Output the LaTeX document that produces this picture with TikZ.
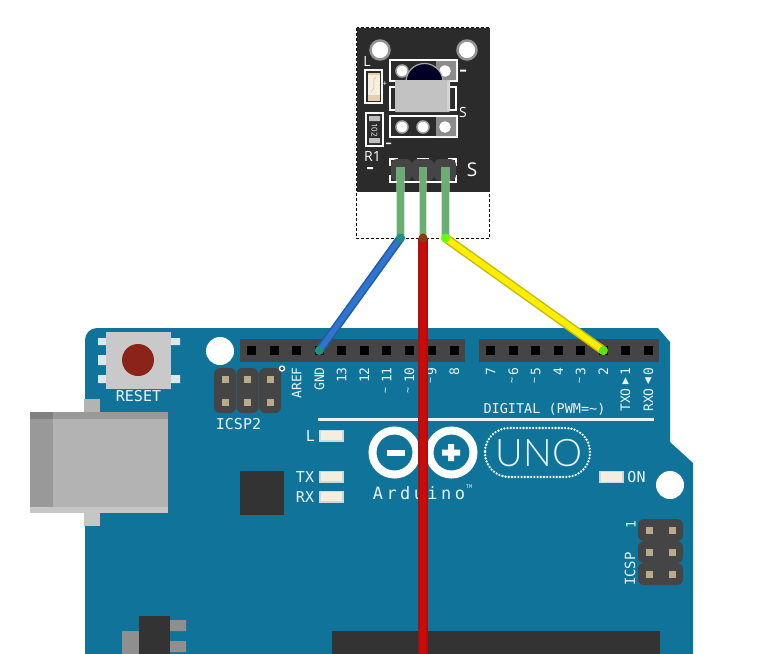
\documentclass[tikz,border=0pt]{standalone}
\usepackage{fontspec}
\setmainfont{DejaVu Sans Mono}
\newfontfamily\logofont[LetterSpace=20]{DejaVu Sans Mono}
\newfontfamily\unofont{Lato Light}
\newfontfamily\symfont{DejaVu Sans}
\newfontfamily\pcbfont{Open Sans}
\definecolor{board}{HTML}{10749A}
\definecolor{hdr}{HTML}{454545}
\definecolor{pinb}{HTML}{B8AC8C}
\definecolor{pcb}{HTML}{2B2B2B}
\definecolor{led}{HTML}{F6EEDC}
\definecolor{legg}{HTML}{6BAE70}
\definecolor{silk}{HTML}{EAF4F7}
\definecolor{tabc}{HTML}{DDE6EA}
\definecolor{resetc}{HTML}{C9C9C9}
\definecolor{resetb}{HTML}{8C2318}
\definecolor{usbm}{HTML}{B3B3B3}
\definecolor{usbd}{HTML}{999999}
\definecolor{chipc}{HTML}{333333}
\definecolor{bluew}{HTML}{2F74CE}
\definecolor{bluee}{HTML}{1E5CA6}
\definecolor{yelw}{HTML}{FFEE00}
\definecolor{yele}{HTML}{C4BC10}
\definecolor{bodyc}{HTML}{C2C2C2}
\definecolor{redw}{HTML}{CC0A0A}
\definecolor{rede}{HTML}{A51212}
\definecolor{tealj}{HTML}{1F8F86}
\definecolor{brownj}{HTML}{8A3A10}
\tikzset{
  silktxt/.style={text=silk,inner sep=0pt,font=\fontsize{13}{13}\selectfont},
  bigsilk/.style={text=silk,inner sep=0pt,font=\fontsize{15}{15}\selectfont},
  pintxt/.style={silktxt,rotate=90,anchor=east},
  tildetxt/.style={text=silk,inner sep=0pt,rotate=90,font=\fontsize{10}{10}\selectfont},
  pcbtxt/.style={text=white,inner sep=0pt,font=\pcbfont\fontsize{14}{14}\selectfont},
  pinhole/.style={fill=black,minimum size=9pt,inner sep=0pt},
  goldpin/.style={fill=pinb,minimum size=7pt,inner sep=0pt},
  leg/.style={line width=6.5pt,draw=legg},
  legglow/.style={line width=8.5pt,draw=legg!50,opacity=.6},
  frame/.style={draw=white,line width=2pt,fill=pcb},
  ledbox/.style={fill=led,draw=white!75!board,line width=1.2pt},
  pad/.style={circle,fill=white,draw=gray!70,line width=1.5pt,inner sep=0pt,minimum size=12pt},
  hole/.style={fill=white,draw=gray!85,line width=2.5pt}
}
\begin{document}
\begin{tikzpicture}[x=1pt,y=-1pt]
\useasboundingbox (0,0) rectangle (772,654);
\fill[white] (0,0) rectangle (772,654);
% board
\fill[board] (85,654) -- (85,340) arc[start angle=180,end angle=270,radius=12] -- (658,328) -- (670,342) -- (670,442) -- (693,463) -- (693,654) -- cycle;
\fill[white] (220,351) circle (14);
\fill[white] (670,485) circle (14);
% reset
\fill[tabc] (98,338) rectangle (180,345) (98,355) rectangle (106,365) (98,375) rectangle (180,383);
\fill[resetc] (106,332) rectangle (171,389);
\fill[resetb] (138,360) circle (16);
\node[bigsilk] (resetlbl) at (138.5,396) {RESET};
% usb
\fill[usbm] (84,399) rectangle (100,412);
\fill[usbm!75!white] (84,513) rectangle (100,526);
\fill[usbm] (30,412) rectangle (168,513);
\fill[usbd] (30,412) rectangle (53,513);
\fill[usbd] (53,412) rectangle (168,419);
\fill[gray] (30,412) rectangle (53,419);
\fill[usbm!75!white] (30,507) rectangle (168,513);
% icsp2
\foreach \x in {225,247.5,270} \fill[hdr] (\x-11,368) [rounded corners=6pt] rectangle (\x+11,413);
\foreach \x in {225,247.5,270} \foreach \y in {379,402} \node[goldpin] at (\x,\y) {};
\draw[white,line width=1.3pt,fill=hdr] (282,368.5) circle (2.5);
\node[bigsilk] (icspb) at (238.5,424) {ICSP2};
% chip
\fill[chipc] (240,471) rectangle (284,515);
% regulator and big chip
\fill[usbd!110] (122,631) rectangle (139,654);
\fill[usbd!110] (170,620) rectangle (186,631) (170,641) rectangle (186,652);
\fill[chipc] (139,616) rectangle (170,654);
\fill[chipc] (332,631) rectangle (660,654);
% headers
\fill[hdr] (240,339) rectangle (465,362);
\fill[hdr] (479,339) rectangle (659,362);
\foreach \x/\n in {251.7/a1,274.2/a2,296.7/a3,319.3/gnd,341.7/a5,364.3/a6,386.7/a7,409.3/a8,431.7/a9,454.3/a10,490.7/b1,513.3/b2,535.7/b3,558.3/b4,580.7/b5,603.3/dtwo,625.5/b7,648.3/b8}
  \node[pinhole] (\n) at (\x,350.5) {};
% pin labels
\foreach \x/\t in {296.7/AREF,319.3/GND,341.7/13,364.3/12,386.7/11,409.3/10,431.7/9,454.3/8,490.7/7,513.3/6,535.7/5,558.3/4,580.7/3,603.3/2}
  \node[pintxt] at (\x,367) {\t};
\foreach \x in {386.7,409.3} \node[tildetxt] at (\x,390) {\symbol{126}};
\foreach \x in {431.7,513.3,535.7,580.7} \node[tildetxt] at (\x,380) {\symbol{126}};
\node[pintxt] at (625.5,367) {1};
\node[pintxt] at (648.3,367) {0};
\node[silktxt,font=\symfont\fontsize{9}{9}\selectfont] at (625.5,381.5) {▲};
\node[silktxt,font=\symfont\fontsize{9}{9}\selectfont] at (648.3,381.5) {▼};
\node[pintxt] at (625.5,388) {TXO};
\node[pintxt] at (648.3,388) {RXO};
\node[silktxt,font=\fontsize{13.5}{13.5}\selectfont] (digi) at (544.5,409) {DIGITAL (PWM=\symbol{126})};
\fill[silk] (318,418) rectangle (654,420.5);
% LEDs
\node[bigsilk] (ltxt) at (310.5,436) {L};
\node[bigsilk] (txtxt) at (305,477) {TX};
\node[bigsilk] (rxtxt) at (305,497) {RX};
\draw[ledbox] (320,430.5) rectangle (343,441);
\draw[ledbox] (320,471.5) rectangle (343,482);
\draw[ledbox] (320,491.5) rectangle (343,502);
\draw[ledbox] (600,471.5) rectangle (623,482.5);
\node[bigsilk] (ontxt) at (636.5,477) {ON};
% logo
\draw[white,line width=8pt] (394.5,452.5) circle (22);
\draw[white,line width=8pt] (451.5,452.5) circle (22);
\fill[white] (387,449.5) rectangle (405,455.5);
\fill[white] (442,449.5) rectangle (460,455.5) (448,444) rectangle (454,461);
\node[text=silk,inner sep=0pt,font=\logofont\fontsize{17}{17}\selectfont] (ardu) at (419,493) {Arduino};
\node[text=silk,inner sep=0pt,font=\fontsize{5}{5}\selectfont] (tm) at (469,487) {TM};
\node[text=silk,inner sep=0pt,font=\unofont\fontsize{38}{38}\selectfont] (uno) at (539,453) {UNO};
\draw[white,line width=2.6pt,line cap=round,dash pattern=on 0pt off 3.2pt,rounded corners=24pt] (485,428) rectangle (590,477);
% icsp
\foreach \y in {530,552,574} \fill[hdr,rounded corners=6pt] (638,\y-11) rectangle (683,\y+11);
\foreach \y in {530,552,574} \foreach \x in {649.5,672} \node[goldpin] at (\x,\y) {};
\node[silktxt,rotate=90] (one) at (631,525) {1};
\node[silktxt,font=\fontsize{14}{14}\selectfont,rotate=90,anchor=east] (icsp) at (630,552) {ICSP};
% sensor module
\draw[black,densely dashed,line width=.8pt] (356.5,27.5) rectangle (489.5,238);
\fill[pcb] (356.5,27.5) rectangle (489.5,192);
\draw[hole] (380,50) circle (9.5);
\draw[hole] (467,50) circle (9.5);
% LED L
\draw[white,line width=2pt,fill=pcb] (365,70) rectangle (382,103);
\fill[led!70!brown] (367.5,72.5) rectangle (379.5,100.5);
\fill[led] (367.5,75) rectangle (379.5,95);
\draw[gray!50] (371,92) .. controls (378,85) and (370,82) .. (376,77);
% resistor
\draw[white,line width=2pt,fill=pcb] (366,113) rectangle (383,146);
\fill[gray!50] (369,116) rectangle (380,121) (369,138) rectangle (380,143);
\node[text=white,inner sep=0pt,rotate=-90,font=\pcbfont\fontsize{8}{8}\selectfont] (rv) at (374.5,130) {102};
\node[pcbtxt] (ltx) at (367,61) {L};
\node[pcbtxt] (r1) at (372.5,156) {R1};
\node[pcbtxt,font=\pcbfont\fontsize{8}{8}\selectfont] (plus) at (385,84) {+};
\fill[white] (367,167) rectangle (373,169) (386,142.5) rectangle (391,144) (460,69.5) rectangle (466,71.5);
% frames
\draw[frame] (390,60) rectangle (457,81);
\draw[frame] (390,87) rectangle (456,110);
\draw[frame] (390,116) rectangle (457,137);
\fill[gray!90] (436,61) rectangle (456,80) (436,117) rectangle (456,136);
\node[pad] (p1) at (402,71) {};
\node[pad,draw=white,minimum size=10pt] (p2) at (445,71) {};
\node[pad] (p3) at (402,127) {};
\node[pad] (p4) at (423,127) {};
\node[pad,draw=white,minimum size=10pt] (p5) at (445,127) {};
\draw[gray!70,line width=1.2pt,fill=black!85!blue] (406,82) arc[start angle=180,end angle=360,radius=18.5] -- cycle;
\fill[bodyc,rounded corners=1pt] (395,80) rectangle (450,112);
\fill[bodyc!70!white] (447,81) rectangle (450,111);
\node[pcbtxt] (s1) at (463,112) {S};
% sensor header
\draw[white,line width=1.5pt] (390,166) |- (398,159) (417,159) -- (429,159) (448,159) -| (456,166) (390,175) |- (456,182) -- (456,175);
\fill[hdr,rounded corners=6pt] (391,159) rectangle (412,181) (412,159) rectangle (434,181) (434,159) rectangle (456,181);
\node[text=white,inner sep=0pt,font=\pcbfont\fontsize{19}{19}\selectfont] (s2) at (472,170) {S};
% connection points
\coordinate (t1) at (400.5,167);
\coordinate (t2) at (423,167);
\coordinate (t3) at (445.5,167);
\coordinate (j1) at (400.5,238);
\coordinate (j2) at (423,238);
\coordinate (j3) at (445.5,238);
\coordinate (rbot) at (423,654);
% wires
\draw[line width=8.5pt,draw=bluee,line cap=round] (j1) -- (gnd.center);
\draw[line width=5.5pt,draw=bluew,line cap=round] (j1) -- (gnd.center);
\draw[line width=10pt,draw=rede] (j2) -- (rbot);
\draw[line width=5.5pt,draw=redw] (j2) -- (rbot);
\draw[line width=9pt,draw=yele,line cap=round] (j3) -- (dtwo.center);
\draw[line width=6pt,draw=yelw,line cap=round] (j3) -- (dtwo.center);
\fill[tealj] (gnd.center) circle (4.5);
\fill[green!60!yellow!90!black] (dtwo.center) circle (4.5);
\draw[legglow] (t1) -- (j1);
\draw[legglow] (t2) -- (j2);
\draw[legglow] (t3) -- (j3);
\draw[leg] (t1) -- (j1);
\draw[leg] (t2) -- (j2);
\draw[leg] (t3) -- (j3);
\fill[tealj] (j1) circle (4.5);
\fill[brownj] (j2) circle (4.5);
\fill[green!60!yellow] (j3) circle (4.5);
\end{tikzpicture}
\end{document}
